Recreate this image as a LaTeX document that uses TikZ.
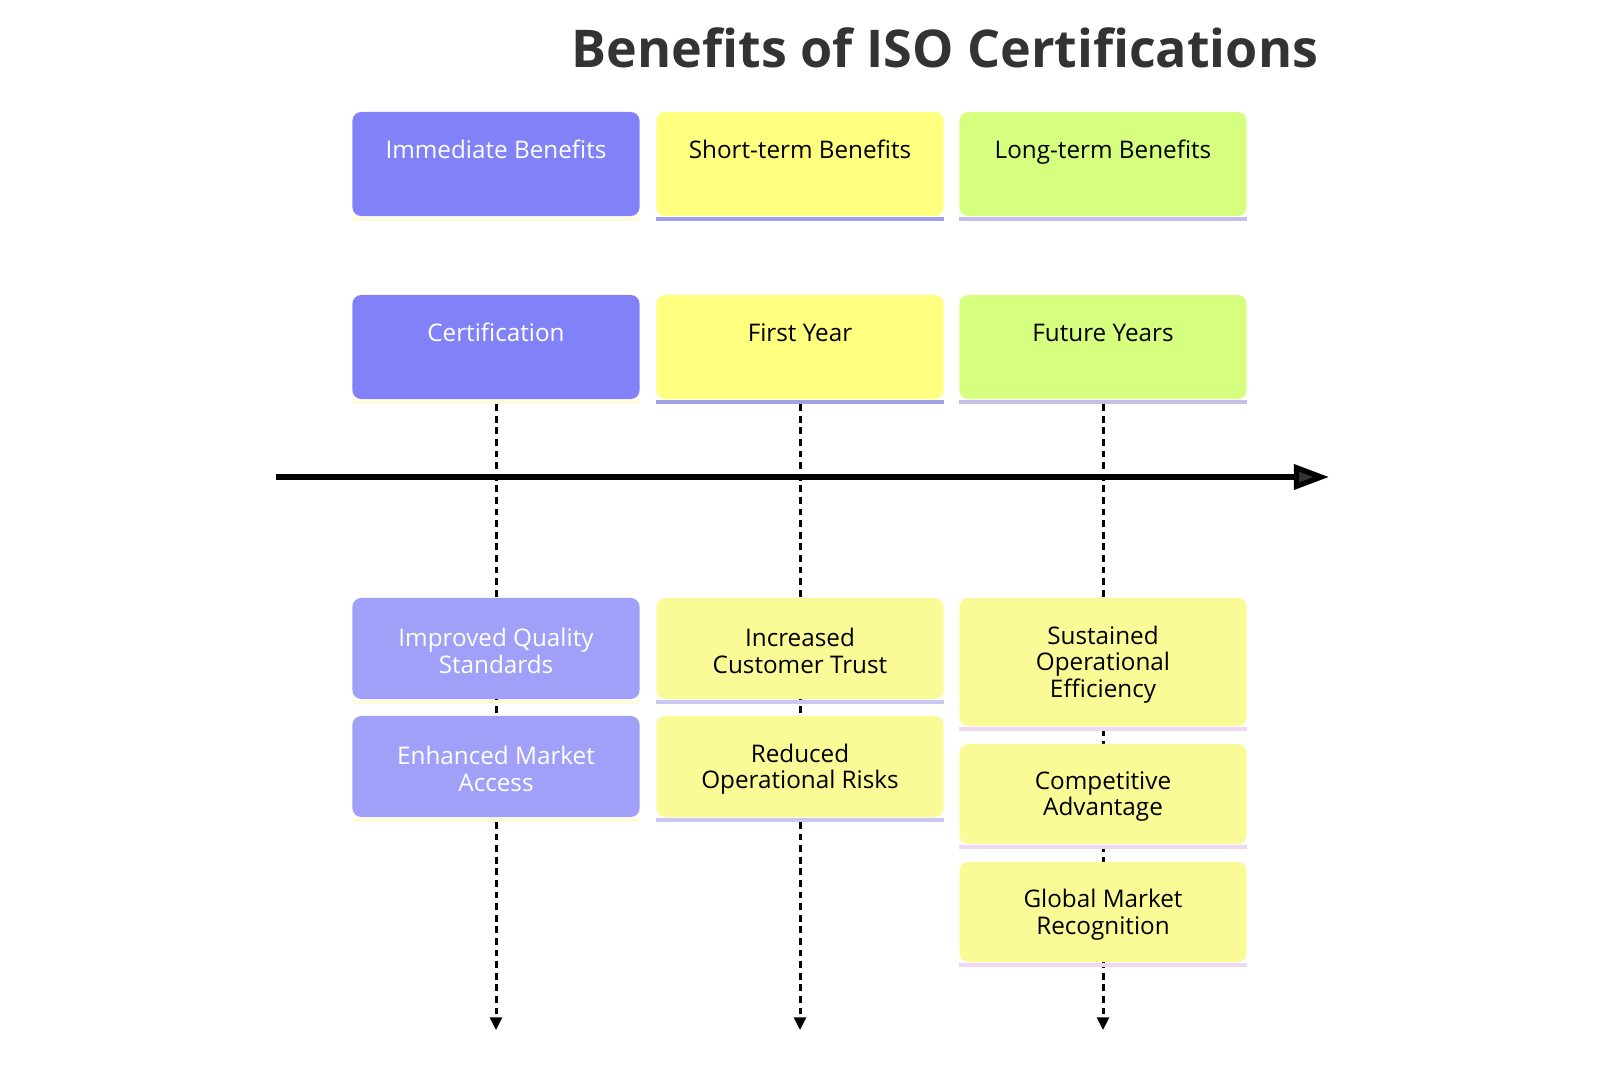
\documentclass[tikz,border=0pt]{standalone}
\usepackage{fontspec}
\setmainfont{Open Sans}
\usetikzlibrary{arrows.meta}
\definecolor{cpurple}{RGB}{130,130,248}
\definecolor{clpurple}{RGB}{160,160,248}
\definecolor{cyellow}{RGB}{255,255,128}
\definecolor{clyellow}{RGB}{250,250,150}
\definecolor{cgreen}{RGB}{214,255,128}
\definecolor{spale}{RGB}{255,252,222}
\definecolor{sblue}{RGB}{160,160,232}
\definecolor{slav}{RGB}{200,190,235}
\definecolor{slblue}{RGB}{200,200,240}
\definecolor{spink}{RGB}{242,215,242}
\definecolor{ctitle}{RGB}{51,51,51}
\tikzset{
  boxnode/.style={draw=none, inner sep=0pt, minimum width=2.87cm, rounded corners=2.5pt},
  txt/.style={inner sep=0pt, align=center, font=\fontsize{6.9}{7.5}\selectfont},
  htxt/.style={txt, text height=1.75ex, text depth=0.45ex},
  dashline/.style={line width=0.85pt, dash pattern=on 1.9pt off 1.4pt, draw=black, -{Triangle[length=3.6pt,width=3.4pt]}},
}
\newcommand{\stripe}[2]{\fill[#2] (#1.south west) rectangle ([yshift=-0.045cm]#1.south east);}
\begin{document}
\begin{tikzpicture}[x=0.01cm,y=-0.01cm]
\useasboundingbox (0,0) rectangle (1600,1088);
\node[font=\bfseries\fontsize{14.8}{18}\selectfont, text=ctitle] (title) at (945,48) {Benefits of ISO Certifications};
% row 1
\node[boxnode, fill=cpurple, minimum height=1.04cm] (h1) at (496,164) {};
\node[boxnode, fill=cyellow, minimum height=1.04cm] (h2) at (800,164) {};
\node[boxnode, fill=cgreen, minimum height=1.04cm] (h3) at (1103,164) {};
\stripe{h1}{spale}\stripe{h2}{sblue}\stripe{h3}{slav}
\node[htxt, text=white] (h1t) at (496,146) {Immediate Benefits};
\node[htxt] (h2t) at (800,146) {Short-term Benefits};
\node[htxt] (h3t) at (1103,146) {Long-term Benefits};
% row 2
\node[boxnode, fill=cpurple, minimum height=1.04cm] (p1) at (496,347) {};
\node[boxnode, fill=cyellow, minimum height=1.04cm] (p2) at (800,347) {};
\node[boxnode, fill=cgreen, minimum height=1.04cm] (p3) at (1103,347) {};
\stripe{p1}{spale}\stripe{p2}{sblue}\stripe{p3}{slav}
\node[htxt, text=white] (p1t) at (496,329) {Certification};
\node[htxt] (p2t) at (800,329) {First Year};
\node[htxt] (p3t) at (1103,329) {Future Years};
% dashed lines
\coordinate (e1) at (496,1030);
\coordinate (e2) at (800,1030);
\coordinate (e3) at (1103,1030);
\draw[dashline] ([yshift=-0.045cm]p1.south) -- (e1);
\draw[dashline] ([yshift=-0.045cm]p2.south) -- (e2);
\draw[dashline] ([yshift=-0.045cm]p3.south) -- (e3);
% timeline
\coordinate (t0) at (276,477);
\coordinate (t1) at (1329,477);
\draw[line width=1.5pt, -{Triangle[length=10pt,width=7pt,fill=ctitle]}] (t0) -- (t1);
% row 3
\node[boxnode, fill=clpurple, minimum height=1.01cm] (a1) at (496,648.5) {};
\node[boxnode, fill=clpurple, minimum height=1.01cm] (a2) at (496,766.5) {};
\node[boxnode, fill=clyellow, minimum height=1.01cm] (b1) at (800,648.5) {};
\node[boxnode, fill=clyellow, minimum height=1.01cm] (b2) at (800,766.5) {};
\node[boxnode, fill=clyellow, minimum height=1.28cm] (c1) at (1103,662) {};
\node[boxnode, fill=clyellow, minimum height=1.0cm] (c2) at (1103,794) {};
\node[boxnode, fill=clyellow, minimum height=1.0cm] (c3) at (1103,912) {};
\stripe{a1}{spale}\stripe{a2}{spale}
\stripe{b1}{slblue}\stripe{b2}{slblue}
\stripe{c1}{spink}\stripe{c2}{spink}\stripe{c3}{spink}
\node[txt, text=white] (a1t) at ([yshift=-0.025cm]a1.center) {Improved Quality\\Standards};
\node[txt, text=white] (a2t) at ([yshift=-0.025cm]a2.center) {Enhanced Market\\Access};
\node[txt] (b1t) at ([yshift=-0.025cm]b1.center) {Increased\\Customer Trust};
\node[txt] (b2t) at ([yshift=-0.025cm]b2.center) {Reduced\\Operational Risks};
\node[txt] (c1t) at ([yshift=-0.025cm]c1.center) {Sustained\\Operational\\Efficiency};
\node[txt] (c2t) at ([yshift=-0.025cm]c2.center) {Competitive\\Advantage};
\node[txt] (c3t) at ([yshift=-0.025cm]c3.center) {Global Market\\Recognition};
\end{tikzpicture}
\end{document}
